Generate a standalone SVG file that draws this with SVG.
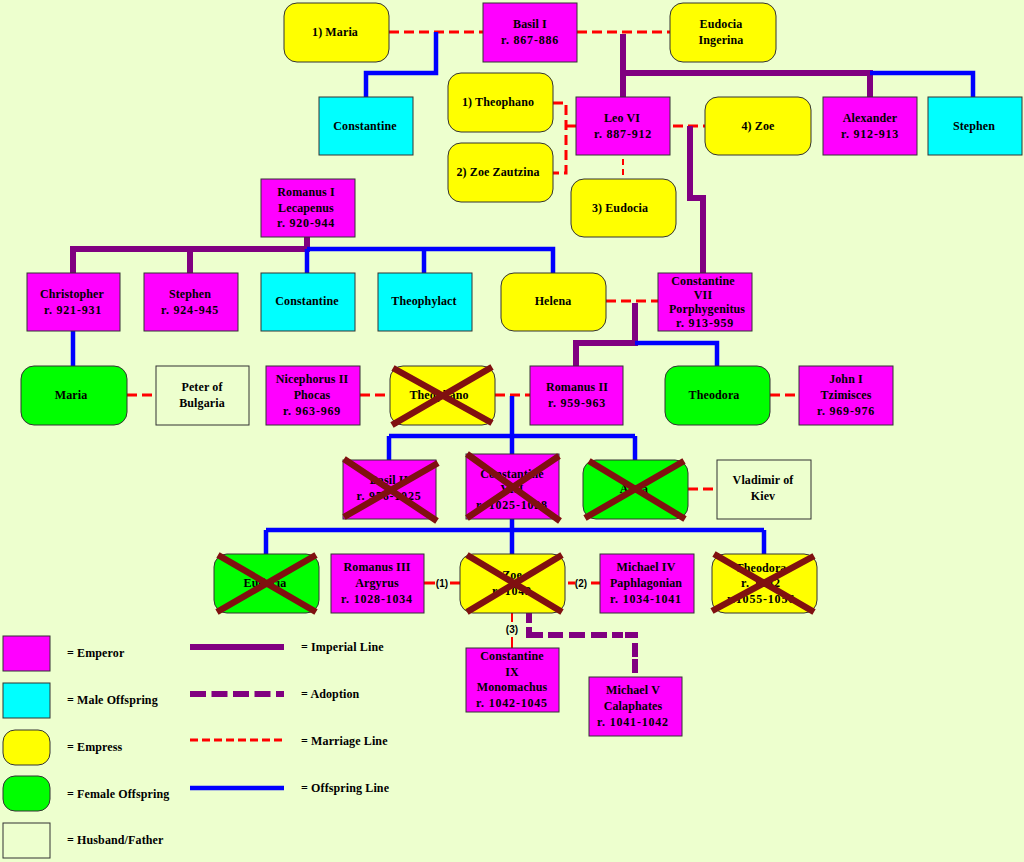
<svg xmlns="http://www.w3.org/2000/svg" width="1024" height="862" viewBox="0 0 1024 862">
<style>
text{font-family:"Liberation Serif","Times New Roman",serif;font-weight:bold;font-size:12px;fill:#000;text-anchor:middle;letter-spacing:.12px}
text.l{text-anchor:start}
text.d{letter-spacing:.8px}
text.n{font-family:"Liberation Sans",Arial,sans-serif;font-size:10px}
rect{stroke:#333;stroke-width:1}
.em{fill:#f0f}.ma{fill:#0ff}.es{fill:#ff0}.fe{fill:#0f0}.hu{fill:#edffce}
.r{rx:13px;ry:13px}
path{fill:none}
.imp{stroke:#800080;stroke-width:6}
.ado{stroke:#800080;stroke-width:6;stroke-dasharray:16 5.5}
.mar{stroke:#f00;stroke-width:3;stroke-dasharray:10 5}
.mar2{stroke:#f00;stroke-width:2;stroke-dasharray:6 4}
.sol{stroke:#f00;stroke-width:2}
.off{stroke:#00f;stroke-width:4.5}
.x{stroke:#801010;stroke-width:6.5;fill:none}
</style>
<rect x="0" y="0" width="1024" height="862" fill="#edffce" style="stroke:none"/>
<g id="connectors">
<path class="mar" d="M389 32H483M577 32H670"/>
<path class="off" d="M436 32V73H366V97"/>
<path class="imp" d="M623 34V97M623 73H870V97"/>
<path class="off" d="M870 73H973V97"/>
<path class="mar" d="M553 103H566V173H553M566 126H576M673 126H705"/>
<path class="mar2" d="M623 159V179"/>
<path class="imp" d="M690 126V198H703V273"/>
<path class="imp" d="M307 237V249H73V273M190 249V273"/>
<path class="off" d="M307 249H553V273M307 249V273M424 249V273"/>
<path class="mar" d="M606 301H658"/>
<path class="imp" d="M635 303V343H576V366"/>
<path class="off" d="M635 343H717V366"/>
<path class="off" d="M73 331V366"/>
<path class="mar" d="M127 395H156M360 395H390M495 395H530M770 395H799M688 489H717"/>
<path class="off" d="M512 396V460M389 436H635M389 436V460M635 436V460"/>
<path class="off" d="M512 519V554M266 530H764M266 530V554M764 530V554"/>
<path class="sol" style="stroke-width:3" d="M424 583H435M450 583H460M568 583H575M591 583H600"/>
<path class="sol" d="M512 613V622M512 637V648"/>
<path class="imp" d="M529 613V623M529 627V635H543M548 635H563M569 635H585M591 635H607M612 635H623M625 635H635V638M635 643V657M635 659V673"/>
<text class="n" x="442" y="587">(1)</text>
<text class="n" x="581" y="587">(2)</text>
<text class="n" x="512" y="633">(3)</text>
</g>
<g id="n-maria1"><rect class="es r" x="284" y="3" width="105" height="59"/><text x="335" y="36">1) Maria</text></g>
<g id="n-basil1"><rect class="em" x="483" y="3" width="94" height="59"/><text x="530" y="28">Basil I</text><text class="d" x="530" y="44">r. 867-886</text></g>
<g id="n-eudocia-ingerina"><rect class="es r" x="670" y="3" width="106" height="59"/><text x="721" y="28">Eudocia</text><text x="721" y="44">Ingerina</text></g>
<g id="n-constantine1"><rect class="ma" x="319" y="97" width="94" height="58"/><text x="365" y="130">Constantine</text></g>
<g id="n-theophano1"><rect class="es r" x="448" y="73" width="105" height="59"/><text x="498" y="106">1) Theophano</text></g>
<g id="n-zoe-zautzina"><rect class="es r" x="448" y="143" width="105" height="59"/><text x="498" y="176">2) Zoe Zautzina</text></g>
<g id="n-leo6"><rect class="em" x="576" y="97" width="94" height="58"/><text x="622" y="122">Leo VI</text><text class="d" x="623" y="138">r. 887-912</text></g>
<g id="n-zoe4"><rect class="es r" x="705" y="97" width="106" height="58"/><text x="758" y="130">4) Zoe</text></g>
<g id="n-alexander"><rect class="em" x="823" y="97" width="94" height="58"/><text x="870" y="122">Alexander</text><text class="d" x="870" y="138">r. 912-913</text></g>
<g id="n-stephen1"><rect class="ma" x="928" y="97" width="94" height="58"/><text x="974" y="130">Stephen</text></g>
<g id="n-eudocia3"><rect class="es r" x="571" y="179" width="105" height="58"/><text x="620" y="212">3) Eudocia</text></g>
<g id="n-romanus1"><rect class="em" x="261" y="179" width="94" height="58"/><text x="306" y="196">Romanus I</text><text x="306" y="212">Lecapenus</text><text class="d" x="306" y="227">r. 920-944</text></g>
<g id="n-christopher"><rect class="em" x="27" y="273" width="93" height="58"/><text x="72" y="298">Christopher</text><text class="d" x="73" y="314">r. 921-931</text></g>
<g id="n-stephen2"><rect class="em" x="144" y="273" width="94" height="58"/><text x="190" y="298">Stephen</text><text class="d" x="190" y="314">r. 924-945</text></g>
<g id="n-constantine2"><rect class="ma" x="261" y="273" width="94" height="58"/><text x="307" y="305">Constantine</text></g>
<g id="n-theophylact"><rect class="ma" x="378" y="273" width="94" height="58"/><text x="424" y="305">Theophylact</text></g>
<g id="n-helena"><rect class="es r" x="501" y="273" width="105" height="58"/><text x="553" y="305">Helena</text></g>
<g id="n-constantine7"><rect class="em" x="658" y="273" width="94" height="58"/><text x="703" y="285">Constantine</text><text x="703" y="299">VII</text><text x="707" y="313">Porphygenitus</text><text class="d" x="705" y="327">r. 913-959</text></g>
<g id="n-maria2"><rect class="fe r" x="21" y="366" width="106" height="59"/><text x="71" y="399">Maria</text></g>
<g id="n-peter"><rect class="hu" x="156" y="366" width="93" height="59"/><text x="202" y="391">Peter of</text><text x="202" y="407">Bulgaria</text></g>
<g id="n-nicephorus"><rect class="em" x="266" y="366" width="94" height="59"/><text x="312" y="383">Nicephorus II</text><text x="312" y="399">Phocas</text><text class="d" x="312" y="415">r. 963-969</text></g>
<g id="n-theophano2"><rect class="es r" x="390" y="366" width="105" height="59"/><text x="439" y="399">Theophano</text><path class="x" d="M393 368L492 423M392 425L492 367"/></g>
<g id="n-romanus2"><rect class="em" x="530" y="366" width="93" height="59"/><text x="577" y="391">Romanus II</text><text class="d" x="577" y="407">r. 959-963</text></g>
<g id="n-theodora1"><rect class="fe r" x="665" y="366" width="105" height="59"/><text x="714" y="399">Theodora</text></g>
<g id="n-john1"><rect class="em" x="799" y="366" width="94" height="59"/><text x="846" y="383">John I</text><text x="846" y="399">Tzimisces</text><text class="d" x="846" y="415">r. 969-976</text></g>
<g id="n-basil2"><rect class="em" x="343" y="460" width="93" height="59"/><text x="389" y="484">Basil II</text><text class="d" x="389" y="500">r. 976-1025</text><path class="x" d="M344 459L437 521M344 517L438 463"/></g>
<g id="n-constantine8"><rect class="em" x="466" y="454" width="93" height="65"/><text x="512" y="478">Constantine</text><text x="512" y="493">VIII</text><text class="d" x="512" y="509">r. 1025-1028</text><path class="x" d="M467 454L560 521M467 518L559 456"/></g>
<g id="n-anna"><rect class="fe r" x="583" y="460" width="105" height="59"/><text x="634" y="493">Anna</text><path class="x" d="M589 461L685 519M585 518L684 461"/></g>
<g id="n-vladimir"><rect class="hu" x="717" y="460" width="94" height="59"/><text x="763" y="484">Vladimir of</text><text x="763" y="500">Kiev</text></g>
<g id="n-eudocia2"><rect class="fe r" x="214" y="554" width="105" height="59"/><text x="265" y="587">Eudocia</text><path class="x" d="M218 555L316 612M217 612L316 555"/></g>
<g id="n-romanus3"><rect class="em" x="331" y="554" width="93" height="59"/><text x="377" y="571">Romanus III</text><text x="377" y="587">Argyrus</text><text class="d" x="377" y="603">r. 1028-1034</text></g>
<g id="n-zoe"><rect class="es r" x="460" y="554" width="105" height="59"/><text x="512" y="579">Zoe</text><text class="d" x="512" y="595">r. 1042</text><path class="x" d="M467 555L562 612M467 612L562 555"/></g>
<g id="n-michael4"><rect class="em" x="600" y="554" width="94" height="59"/><text x="646" y="571">Michael IV</text><text x="646" y="587">Paphlagonian</text><text class="d" x="646" y="603">r. 1034-1041</text></g>
<g id="n-theodora2"><rect class="es r" x="712" y="554" width="105" height="59"/><text x="761" y="572">Theodora</text><text class="d" x="761" y="587">r. 1042</text><text class="d" x="761" y="603">r.1055-1056</text><path class="x" d="M714 554L814 612M712 611L814 556"/></g>
<g id="n-constantine9"><rect class="em" x="466" y="648" width="93" height="64"/><text x="512" y="660">Constantine</text><text x="512" y="676">IX</text><text x="512" y="691">Monomachus</text><text class="d" x="512" y="707">r. 1042-1045</text></g>
<g id="n-michael5"><rect class="em" x="589" y="677" width="93" height="59"/><text x="633" y="694">Michael V</text><text x="633" y="710">Calaphates</text><text class="d" x="633" y="726">r. 1041-1042</text></g>
<g id="legend">
<rect class="em" x="3" y="636" width="47" height="35"/><text class="l" x="67" y="657">= Emperor</text>
<rect class="ma" x="3" y="683" width="47" height="35"/><text class="l" x="67" y="704">= Male Offspring</text>
<rect class="es" rx="12" ry="12" x="3" y="730" width="47" height="35"/><text class="l" x="67" y="751">= Empress</text>
<rect class="fe" rx="12" ry="12" x="3" y="776" width="47" height="35"/><text class="l" x="67" y="798">= Female Offspring</text>
<rect class="hu" x="3" y="823" width="47" height="35"/><text class="l" x="67" y="844">= Husband/Father</text>
<path class="imp" d="M190 647H284"/><text class="l" x="301" y="651">= Imperial Line</text>
<path class="ado" d="M190 694H284"/><text class="l" x="301" y="698">= Adoption</text>
<path class="mar" style="stroke-dasharray:8 4" d="M190 740H284"/><text class="l" x="301" y="745">= Marriage Line</text>
<path class="off" d="M190 788H284"/><text class="l" x="301" y="792">= Offspring Line</text>
</g>
</svg>
